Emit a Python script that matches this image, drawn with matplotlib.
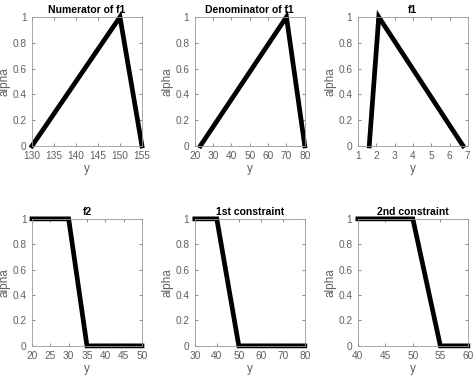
import matplotlib.pyplot as plt

# membership functions (y, alpha)
num_y = [130, 150, 155]
num_a = [0, 1, 0]
den_y = [23, 70, 80]
den_a = [0, 1, 0]
f1_y = [1.62, 2.14, 6.74]
f1_a = [0, 1, 0]
f2_y = [20, 30, 35, 50]
f2_a = [1, 1, 0, 0]
c1_y = [30, 40, 50, 80]
c1_a = [1, 1, 0, 0]
c2_y = [40, 50, 55, 60]
c2_a = [1, 1, 0, 0]

titles = ["Numerator of f1", "Denominator of f1", "f1",
          "f2", "1st constraint", "2nd constraint"]
xlims = [(130, 155), (20, 80), (1, 7), (20, 50), (30, 80), (40, 60)]
xticks = [list(range(130, 156, 5)), list(range(20, 81, 10)), list(range(1, 8)),
          list(range(20, 51, 5)), list(range(30, 81, 10)), list(range(40, 61, 5))]
data = [(num_y, num_a), (den_y, den_a), (f1_y, f1_a),
        (f2_y, f2_a), (c1_y, c1_a), (c2_y, c2_a)]

plt.rcParams['font.family'] = 'Liberation Sans'
fig = plt.figure(figsize=(4.74, 3.78), dpi=100)

lefts = [0.0675, 0.411, 0.755]
rows = [(0.614, 0.341), (0.085, 0.336)]
gray = '#606060'

for i in range(6):
    r, c = divmod(i, 3)
    ax = fig.add_axes([lefts[c], rows[r][0], 0.232, rows[r][1]])
    x, a = data[i]
    ax.plot(x, a, color='black', lw=3.4, solid_joinstyle='miter', clip_on=False)
    ax.set_xlim(*xlims[i])
    ax.set_ylim(0, 1)
    ax.set_xticks(xticks[i])
    ax.set_yticks([0, 0.2, 0.4, 0.6, 0.8, 1])
    ax.set_yticklabels(['0', '0.2', '0.4', '0.6', '0.8', '1'])
    ax.tick_params(direction='in', top=True, right=True, length=2.5, width=0.5,
                   colors=gray, labelsize=7.3, pad=4)
    for s in ax.spines.values():
        s.set_color('#999999')
        s.set_linewidth(0.6)
    ax.set_title(titles[i], fontsize=7.5, fontweight='bold', pad=3)
    ax.set_xlabel('y', fontsize=8.5, color=gray, labelpad=1)
    ax.set_ylabel('alpha', fontsize=8.5, color=gray, labelpad=1)

plt.savefig("out.png", dpi=100)
